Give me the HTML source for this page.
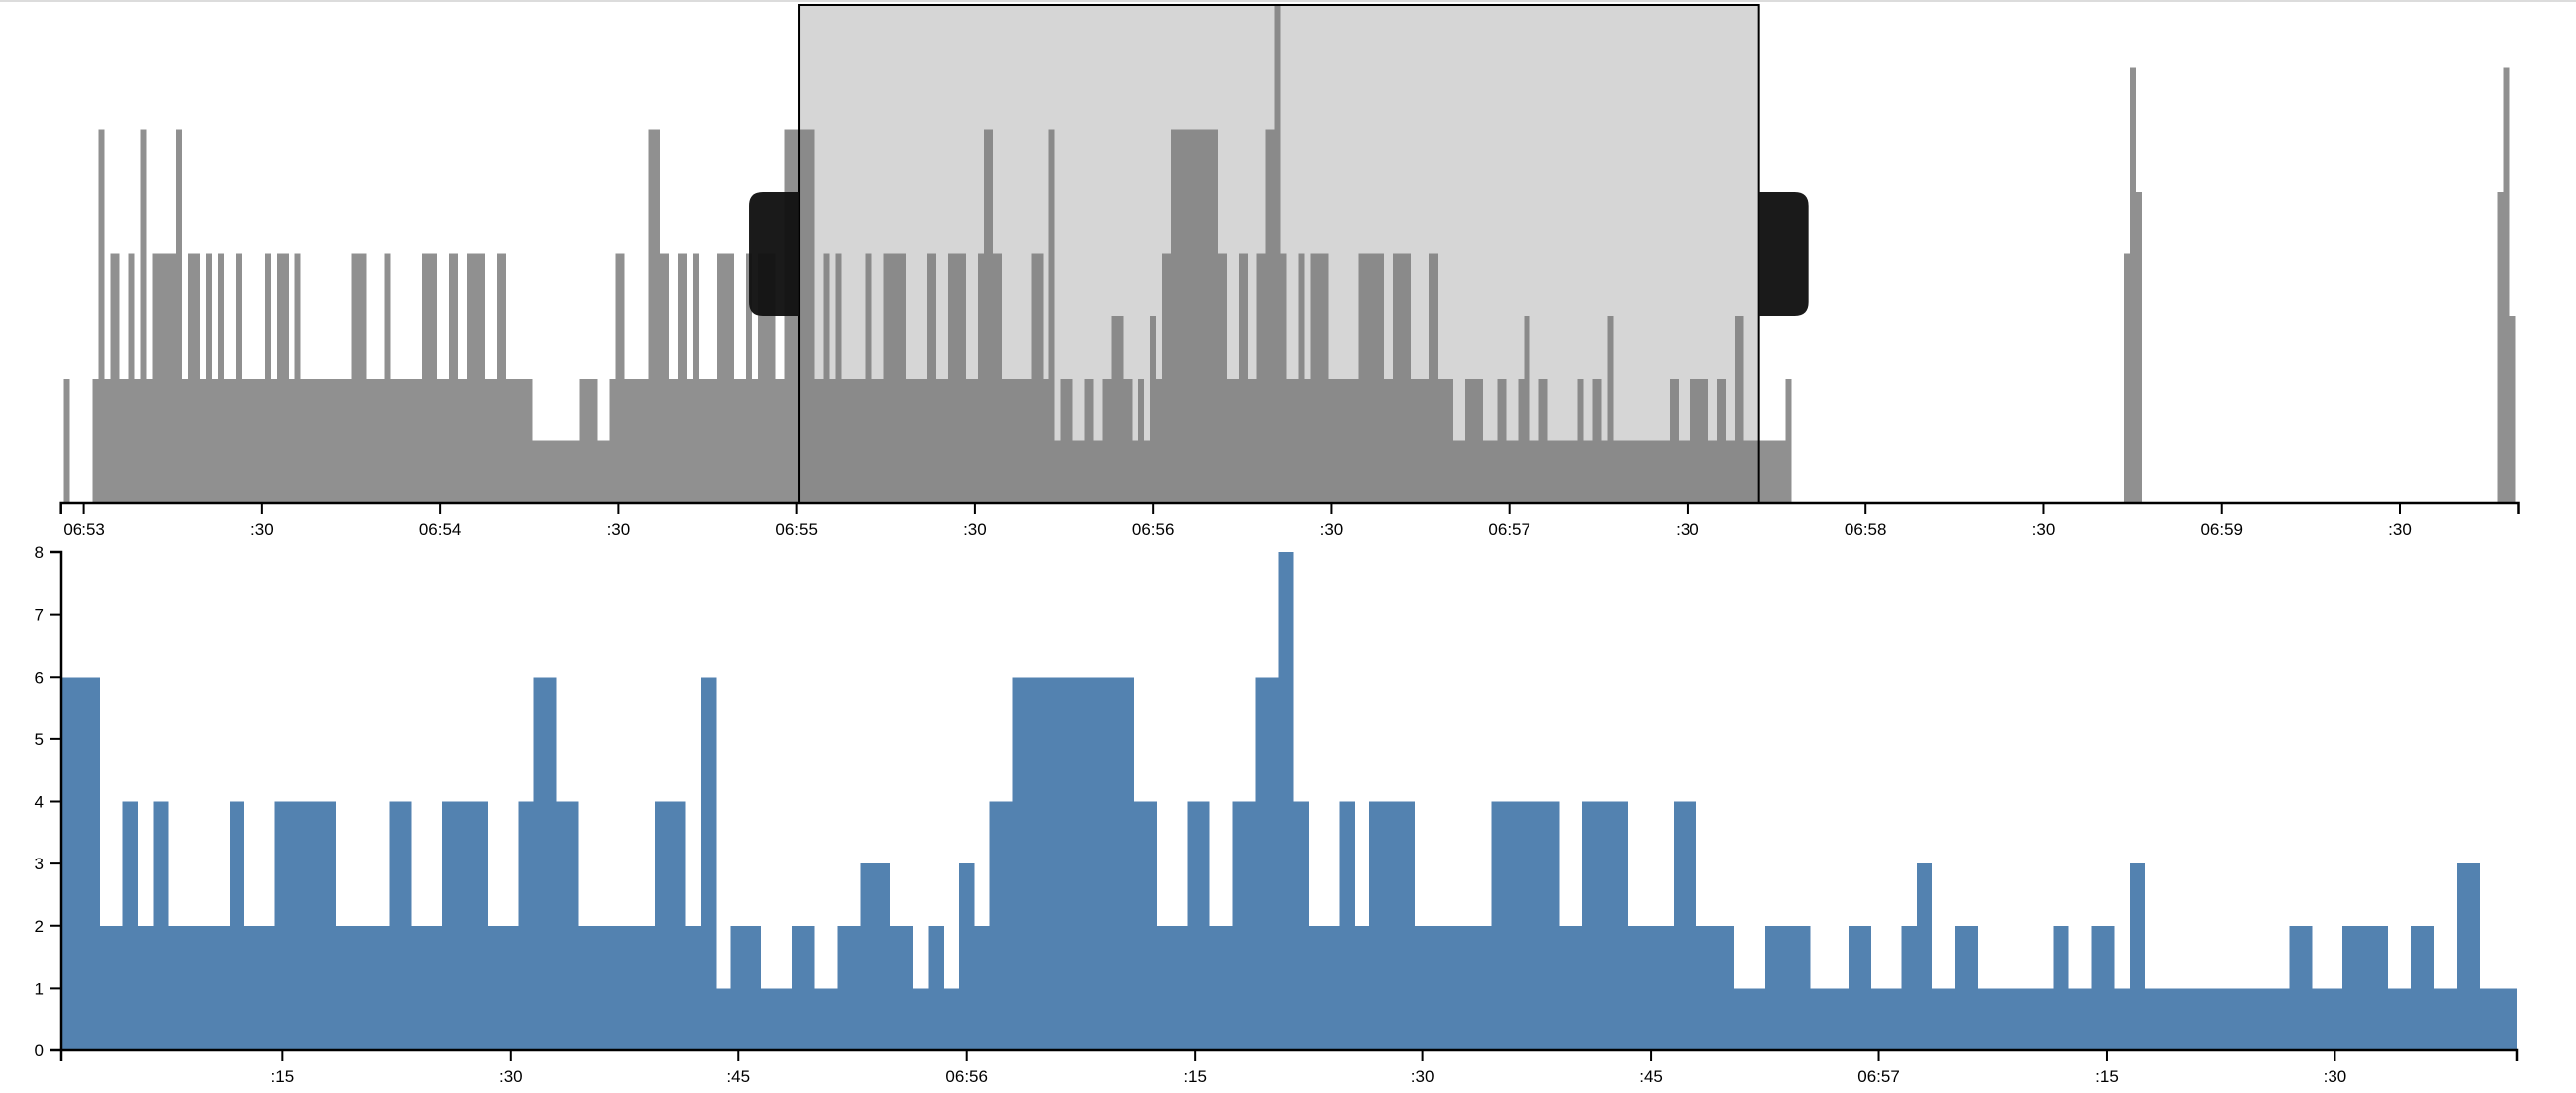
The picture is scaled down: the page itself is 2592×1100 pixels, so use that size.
<!DOCTYPE html>
<html><head><meta charset="utf-8">
<style>
html,body{margin:0;padding:0;background:#fff;}
svg{display:block;font-family:"Liberation Sans",Arial,sans-serif;}
.tick text{font-size:17px;fill:#000;}
.bars rect{shape-rendering:crispEdges;}
</style></head>
<body>
<svg id="chart" width="2592" height="1100" viewBox="0 0 2592 1100" xmlns="http://www.w3.org/2000/svg">
<rect x="0" y="0" width="2592" height="2" fill="#dcdcdc"/>
<g id="ctx"></g>
<g id="focus"></g>
</svg>
<script>
// seconds relative to 06:55:00 where each step segment starts
const segStart = [-123.5,-122.5,-118.5,-117.5,-116.5,-115.5,-114,-112.5,-111.5,-110.5,-109.5,-108.5,-104.5,-103.5,-102.5,-100.5,-99.5,-98.5,-97.5,-96.5,-94.5,-93.5,-89.5,-88.5,-87.5,-85.5,-84.5,-83.5,-75,-72.5,-69.5,-68.5,-63,-60.5,-58.5,-57,-55.5,-52.5,-50.5,-49,-44.5,-36.5,-33.5,-31.5,-30.5,-29,-25,-23,-21.5,-20,-18.5,-17.5,-16.5,-13.5,-10.5,-8.5,-7.5,-6.5,-3.5,-2,
3,4.5,5.5,6.5,7.5,11.5,12.5,14.5,18.5,22,23.5,25.5,28.5,30.5,31.5,33,34.5,39.5,41.5,42.5,43.5,44.5,46.5,48.5,50,51.5,53,55,56.5,57.5,58.5,59.5,60.5,61.5,63,71,72.5,74.5,76,77.5,79,80.5,81.5,82.5,84.5,85.5,86.5,89.5,94.5,99,100.5,103.5,106.5,108,110.5,112.5,115.5,118,119.5,121.5,122.5,123.5,125,126.5,131.5,132.5,134,135.5,136.5,137.5,147,148.5,150.5,153.5,155,156.5,158,159.5,166.5,167.5,223.5,224.5,225.5,226.5,286.5,287.5,288.5,289.5];
const segValue = [2,0,2,6,2,4,2,4,2,6,2,4,6,2,4,2,4,2,4,2,4,2,4,2,4,2,4,2,4,2,4,2,4,2,4,2,4,2,4,2,1,2,1,2,4,2,6,4,2,4,2,4,2,4,2,4,2,4,2,6,
2,4,2,4,2,4,2,4,2,4,2,4,2,4,6,4,2,4,2,6,1,2,1,2,1,2,3,2,1,2,1,3,2,4,6,4,2,4,2,4,6,8,4,2,4,2,4,2,4,2,4,2,4,2,1,2,1,2,1,2,3,1,2,1,2,1,2,1,3,1,2,1,2,1,2,1,3,1,2,0,4,7,5,0,5,7,3,0];
const ctxDomain = [-124, 290];
const brushExtent = [0.4, 162];
const ctxTickSec = [-120,-90,-60,-30,0,30,60,90,120,150,180,210,240,270];
const ctxTickLabels = ["06:53",":30","06:54",":30","06:55",":30","06:56",":30","06:57",":30","06:58",":30","06:59",":30"];
const focusTickSec = [15,30,45,60,75,90,105,120,135,150];
const focusTickLabels = [":15",":30",":45","06:56",":15",":30",":45","06:57",":15",":30"];
const yTicks = [0,1,2,3,4,5,6,7,8];
const yMax = 8;

const NS="http://www.w3.org/2000/svg";
function mk(tag, attrs, parent){const e=document.createElementNS(NS,tag);for(const k in attrs)e.setAttribute(k,attrs[k]);parent.appendChild(e);return e;}

const cx0=60.7, cx1=2534.5, cyBase=506, cyTop=5;
const xC=t=>cx0+(t-ctxDomain[0])/(ctxDomain[1]-ctxDomain[0])*(cx1-cx0);
const yC=v=>cyBase-v/yMax*(cyBase-cyTop);
const fx0=61, fx1=2533, fyBase=1057, fyTop=556;
const xF=t=>fx0+(t-brushExtent[0])/(brushExtent[1]-brushExtent[0])*(fx1-fx0);
const yF=v=>fyBase-v/yMax*(fyBase-fyTop);

const ctx=document.getElementById('ctx');
const focus=document.getElementById('focus');

const ctxBars=mk('g',{class:'bars'},ctx);


for(let i=0;i<segStart.length-1;i++){
  const v=segValue[i]; if(!v) continue;
  const a=xC(segStart[i]), b=xC(segStart[i+1]);
  const r=mk('rect',{x:a,y:yC(v),width:b-a,height:cyBase-yC(v),fill:'#909090'},ctxBars);
  
  
}
const cAx=mk('g',{},ctx);


mk('path',{d:`M${cx0},${cyBase+11}V${cyBase}H${cx1}V${cyBase+11}`,stroke:'#000','stroke-width':2.5,fill:'none'},cAx);
ctxTickSec.forEach((s,i)=>{
  const g=mk('g',{class:'tick'},cAx);
  
  
  const x=xC(s);
  mk('line',{x1:x,x2:x,y1:cyBase,y2:cyBase+11,stroke:'#000','stroke-width':2},g);
  const t=mk('text',{x:x,y:cyBase+32,'text-anchor':'middle'},g);
  t.textContent=ctxTickLabels[i];
});
const bx0=xC(brushExtent[0]), bx1=xC(brushExtent[1]);
const br=mk('rect',{x:bx0,y:cyTop,width:bx1-bx0,height:cyBase-cyTop,fill:'#7d7d7d','fill-opacity':0.315,stroke:'#000','stroke-width':2},ctx);


const hy0=193, hy1=318, hw=50, rr=14;
const hl=mk('path',{d:`M${bx0},${hy0}H${bx0-hw+rr}Q${bx0-hw},${hy0} ${bx0-hw},${hy0+rr}V${hy1-rr}Q${bx0-hw},${hy1} ${bx0-hw+rr},${hy1}H${bx0}Z`,fill:'#111','fill-opacity':0.96},ctx);


const hr=mk('path',{d:`M${bx1},${hy0}H${bx1+hw-rr}Q${bx1+hw},${hy0} ${bx1+hw},${hy0+rr}V${hy1-rr}Q${bx1+hw},${hy1} ${bx1+hw-rr},${hy1}H${bx1}Z`,fill:'#111','fill-opacity':0.96},ctx);



const fBars=mk('g',{class:'bars'},focus);


for(let i=0;i<segStart.length-1;i++){
  const v=segValue[i]; if(!v) continue;
  let a=Math.max(segStart[i],brushExtent[0]), b=Math.min(segStart[i+1],brushExtent[1]);
  if(b<=a) continue;
  const r=mk('rect',{x:xF(a),y:yF(v),width:xF(b)-xF(a),height:fyBase-yF(v),fill:'#5382b0'},fBars);
  
  
}
const fAx=mk('g',{},focus);


mk('path',{d:`M${fx0},${fyBase+11}V${fyBase}H${fx1}V${fyBase+11}`,stroke:'#000','stroke-width':2.5,fill:'none'},fAx);
focusTickSec.forEach((s,i)=>{
  const g=mk('g',{class:'tick'},fAx);
  
  
  const x=xF(s);
  mk('line',{x1:x,x2:x,y1:fyBase,y2:fyBase+11,stroke:'#000','stroke-width':2},g);
  const t=mk('text',{x:x,y:fyBase+32,'text-anchor':'middle'},g);
  t.textContent=focusTickLabels[i];
});
const yAx=mk('g',{},focus);


mk('path',{d:`M${fx0-11},${fyTop}H${fx0}V${fyBase}H${fx0-11}`,stroke:'#000','stroke-width':2.5,fill:'none'},yAx);
yTicks.forEach(v=>{
  const g=mk('g',{class:'tick'},yAx);
  
  
  const y=yF(v);
  mk('line',{x1:fx0-11,x2:fx0,y1:y,y2:y,stroke:'#000','stroke-width':2},g);
  const t=mk('text',{x:fx0-17,y:y+6,'text-anchor':'end'},g);
  t.textContent=String(v);
});
</script>
</body></html>
